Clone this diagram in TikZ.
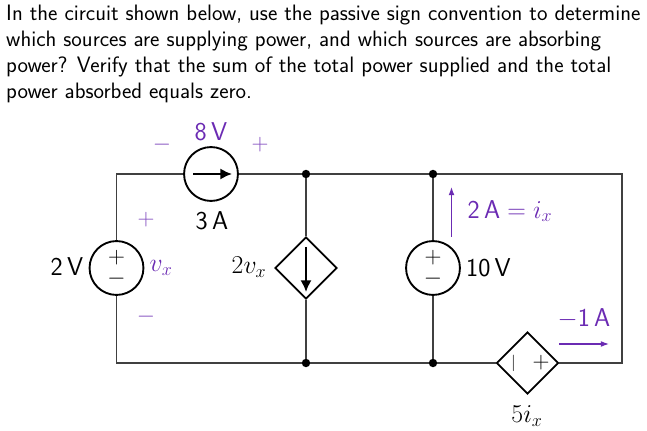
\documentclass[tikz,border=0pt]{standalone}
\usepackage{amsmath}
\usepackage{fix-cm}
\usetikzlibrary{arrows.meta,shapes.geometric}
\definecolor{vio}{HTML}{6B2BB3}
\tikzset{
  wire/.style={line width=1pt,black!75},
  srccirc/.style={circle,draw,line width=1.6pt,minimum size=46pt,inner sep=0pt},
  srcdiam/.style={diamond,draw,line width=1.6pt,minimum size=53pt,inner sep=0pt},
  junc/.style={circle,fill=black,inner sep=0pt,minimum size=7.2pt},
  para/.style={anchor=base west,inner sep=0pt,font=\fontsize{19.05}{22}\selectfont\sffamily},
  lbl/.style={inner sep=0pt,font=\fontsize{22}{26}\selectfont\sffamily},
  vlbl/.style={lbl,text=vio},
  sgn/.style={inner sep=0pt,font=\fontsize{20}{24}\selectfont},
  vsgn/.style={sgn,text=vio!85},
  bigtip/.style={-{Latex[length=10pt,width=9.5pt]},line width=1.6pt},
  vtip/.style={-{Latex[length=7pt,width=5pt]},vio,line width=0.9pt},
}
\begin{document}
\begin{tikzpicture}[x=0.03cm,y=-0.03cm]
    \useasboundingbox (0,0) rectangle (647,431);

    % Problem statement
    \node[para] (line1) at (6,21) {In the circuit shown below, use the passive sign convention to determine};
    \node[para] (line2) at (6,47) {which sources are supplying power, and which sources are absorbing};
    \node[para] (line3) at (6,73) {power? Verify that the sum of the total power supplied and the total};
    \node[para] (line4) at (6,99) {power absorbed equals zero.};

    % Sources
    \node[srccirc] (csrc) at (211,174) {};
    \node[srccirc] (vleft) at (116.5,268) {};
    \node[srcdiam] (dcs) at (306,268) {};
    \node[srccirc] (vten) at (433,268) {};
    \node[srcdiam] (dvs) at (527.5,363) {};

    % Corners and junctions
    \coordinate (tl) at (116.5,174);
    \coordinate (bl) at (116.5,363);
    \coordinate (tr) at (622,174);
    \coordinate (br) at (622,363);
    \node[junc] (ja) at (306,174) {};
    \node[junc] (jb) at (433,174) {};
    \node[junc] (jc) at (306,363) {};
    \node[junc] (jd) at (433,363) {};

    % Wires
    \draw[wire] (vleft) -- (tl) -- (csrc);
    \draw[wire] (csrc) -- (ja) -- (jb) -- (tr) -- (br) -- (dvs);
    \draw[wire] (vleft) -- (bl) -- (jc) -- (jd) -- (dvs);
    \draw[wire] (ja) -- (dcs);
    \draw[wire] (dcs) -- (jc);
    \draw[wire] (jb) -- (vten);
    \draw[wire] (vten) -- (jd);

    % Inside the sources
    \coordinate (csa) at (193,174);
    \coordinate (csb) at (232,174);
    \draw[bigtip] (csa) -- (csb);
    \coordinate (dca) at (306,247);
    \coordinate (dcb) at (306,292);
    \draw[bigtip] (dca) -- (dcb);
    \node[sgn] (vlp) at (116.5,257.5) {$+$};
    \node[sgn] (vlm) at (116.5,279) {$-$};
    \node[sgn] (vtp) at (433,257.5) {$+$};
    \node[sgn] (vtm) at (433,279) {$-$};
    \node[sgn,font=\fontsize{14}{16}\selectfont] (dvm) at (513.5,363) {$|$};
    \node[sgn] (dvp) at (541,363) {$+$};

    % Black labels
    \node[lbl] (ucs) at (212,221) {3\,A};
    \node[lbl] (uleft) at (67,267) {2\,V};
    \node[lbl] (uten) at (488.5,268) {10\,V};
    \node[lbl] (gain) at (249,267) {$2v_x$};
    \node[lbl] (gainb) at (527,416) {$5i_x$};

    % Violet labels
    \node[vlbl] (vcs) at (211,132) {8\,V};
    \node[vsgn] (csm) at (162,145) {$-$};
    \node[vsgn] (csp) at (260,145) {$+$};
    \node[vsgn] (vxp) at (146,220) {$+$};
    \node[vsgn] (vxm) at (146,317) {$-$};
    \node[vlbl] (vx) at (161,268) {$v_x$};
    \node[vlbl] (ix) at (510,211) {2\,A${}=i_x$};
    \node[vlbl] (ione) at (584,319) {$-$1\,A};

    % Current arrows
    \coordinate (ixa) at (451.5,237);
    \coordinate (ixb) at (451.5,187);
    \draw[vtip] (ixa) -- (ixb);
    \coordinate (ioa) at (559,344);
    \coordinate (iob) at (609,344);
    \draw[vtip] (ioa) -- (iob);
\end{tikzpicture}
\end{document}
